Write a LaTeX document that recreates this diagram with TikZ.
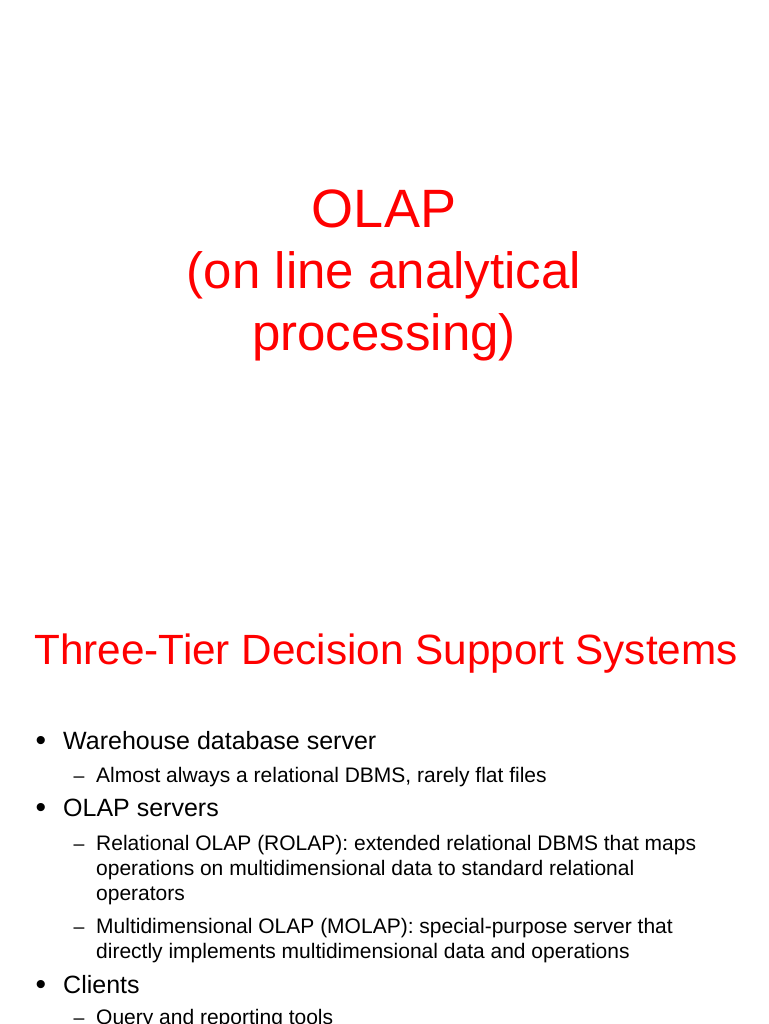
\documentclass[tikz,border=0pt]{standalone}
\usepackage{fontspec}
\setmainfont{Liberation Sans}
\definecolor{tred}{RGB}{255,0,0}
\begin{document}
\begin{tikzpicture}[x=1pt,y=-1pt,
  title/.style={text=tred,inner sep=0pt,anchor=base},
  lvone/.style={anchor=base west,inner sep=0pt,font=\fontsize{25}{30}\selectfont},
  lvtwo/.style={anchor=base west,inner sep=0pt,font=\fontsize{21}{24}\selectfont},
  mark1/.style={anchor=base,inner sep=0pt,font=\fontsize{30}{30}\selectfont},
  mark2/.style={anchor=base,inner sep=0pt,font=\fontsize{19.5}{24}\selectfont}]
\useasboundingbox[fill=white] (0,0) rectangle (768,1024);
\node[title,font=\fontsize{54}{60}\selectfont] (t1) at (384,227) {OLAP};
\node[title,font=\fontsize{51}{54}\selectfont] (t2) at (384,288) {(on line analytical};
\node[title,font=\fontsize{51}{54}\selectfont] (t3) at (384,350) {processing)};
\node[title,font=\fontsize{42.3}{44}\selectfont] (h) at (386,664) {Three-Tier Decision Support Systems};
\node[mark1] (b1) at (41,750) {•};
\node[lvone] (l1) at (63,749) {Warehouse database server};
\node[mark2] (d1) at (79,782) {–};
\node[lvtwo] (s1) at (96,782) {Almost always a relational DBMS, rarely flat files};
\node[mark1] (b2) at (41,817) {•};
\node[lvone] (l2) at (63,816) {OLAP servers};
\node[mark2] (d2) at (79,850) {–};
\node[lvtwo] (s2a) at (96,850) {Relational OLAP (ROLAP): extended relational DBMS that maps};
\node[lvtwo] (s2b) at (96,875) {operations on multidimensional data to standard relational};
\node[lvtwo] (s2c) at (96,900) {operators};
\node[mark2] (d3) at (79,933) {–};
\node[lvtwo] (s3a) at (96,933) {Multidimensional OLAP (MOLAP): special-purpose server that};
\node[lvtwo] (s3b) at (96,958) {directly implements multidimensional data and operations};
\node[mark1] (b3) at (41,994) {•};
\node[lvone] (l3) at (63,993) {Clients};
\node[mark2] (d4) at (79,1024) {–};
\node[lvtwo] (s4) at (96,1024) {Query and reporting tools};
\end{tikzpicture}
\end{document}
